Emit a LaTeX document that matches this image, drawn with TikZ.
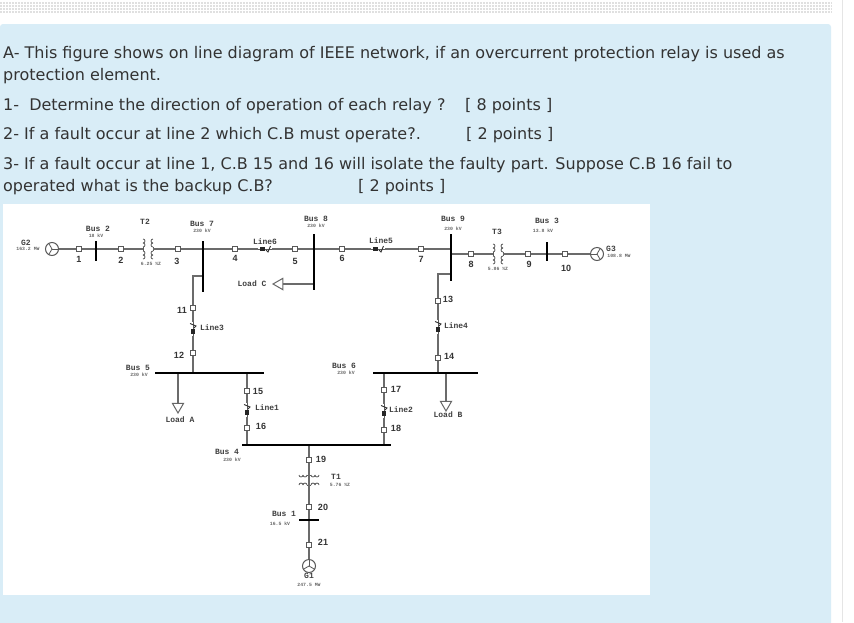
\documentclass[tikz,border=0pt]{standalone}
\usepackage{fontspec}
\setmainfont{DejaVu Sans}
\newfontfamily\diagfont{Liberation Mono}
\newfontfamily\numfont{Liberation Sans}
\usetikzlibrary{shapes.geometric}
\definecolor{panelblue}{HTML}{D9EDF7}
\definecolor{qtext}{HTML}{333333}
\tikzset{>={stealth},
    qline/.style={anchor=base west,text=qtext,font=\fontsize{16}{18}\selectfont,inner sep=0pt},
    wire/.style={draw=black!58,line width=1.1pt},
    busbar/.style={draw=black,line width=2.4pt},
    brk/.style={draw=black!65,fill=white,line width=1pt,minimum size=5.5pt,inner sep=0pt},
    relnum/.style={font=\fontsize{9}{9}\numfont\bfseries,text=black!80,inner sep=0pt},
    busname/.style={font=\fontsize{8}{8}\diagfont\bfseries,text=black!75,inner sep=0pt},
    busvolt/.style={font=\fontsize{4.8}{5}\diagfont\bfseries,text=black!60,inner sep=0pt},
    loadtri/.style={regular polygon,regular polygon sides=3,draw=black!60,fill=white,line width=1pt,minimum size=13pt,inner sep=0pt},
    gen/.style={circle,draw=black!65,fill=white,line width=1pt,minimum size=13pt,inner sep=0pt,
        path picture={\foreach \a in {0,120,240} \draw[black!65,line width=0.8pt] (path picture bounding box.center) -- +(\a+#1:7);}},
    pics/xfmr/.style={code={
        \foreach \k in {-2,-6,6,10} {
            \draw[black!65,line width=0.8pt] (-5,\k) arc[start angle=90,end angle=-90,radius=2];
            \draw[black!65,line width=0.8pt] (5,\k) arc[start angle=90,end angle=270,radius=2];
        }
        \draw[black!65,line width=0.8pt] (-5,-2) -- (-5,2) (5,-2) -- (5,2);
        \coordinate (-l) at (-5,0);
        \coordinate (-r) at (5,0);
    }},
    pics/linesym/.style={code={
        \draw[black!65,line width=0.9pt] (-7,0) -- (7,0);
        \draw[black!80,line width=0.9pt] (1,1) -- (3,3) -- (5.5,-3);
        \fill[black!85] (-5,-2) rectangle (0,2);
        \coordinate (-a) at (-7,0);
        \coordinate (-b) at (7,0);
    }}
}
\begin{document}
\begin{tikzpicture}[x=1pt,y=-1pt]
    \useasboundingbox (0,0) rectangle (854,622);
    \fill[white] (0,0) rectangle (854,622);
    % dotted strip along the top
    \foreach \y in {3,6,9,12}
        \draw[black!12,line width=1.5pt,dash pattern=on 1.5pt off 1.5pt] (0,\y) -- (832,\y);
    \draw[black!10,line width=0.8pt] (842.5,0) -- (842.5,622);
    \fill[panelblue,rounded corners=3pt] (0,24) rectangle (831,640);
    \fill[white] (3,204) rectangle (650,595);
    % question text
    \node[qline] (q1) at (3,58) {A- This figure shows on line diagram of IEEE network, if an overcurrent protection relay is used as};
    \node[qline] (q2) at (3,80) {protection element.};
    \node[qline] (q3) at (3,110) {1-\ \ Determine the direction of operation of each relay ?};
    \node[qline] (q3p) at (465,110) {[ 8 points ]};
    \node[qline] (q4) at (3,139) {2- If a fault occur at line 2 which C.B must operate?.};
    \node[qline] (q4p) at (466,139) {[ 2 points ]};
    \node[qline] (q5) at (3,169) {3- If a fault occur at line 1, C.B 15 and 16 will isolate the faulty part. Suppose C.B 16 fail to};
    \node[qline] (q6) at (3,191) {operated what is the backup C.B?};
    \node[qline] (q6p) at (358,191) {[ 2 points ]};
    % bus bars
    \foreach \n/\xa/\ya/\xb/\yb in {bu2/96/241/96/261,bu7/203/241/203/292,bu8/314/234/314/290,bu9/451/234/451/281,
        bu3/547/242/547/261,bu5/155/373/264/373,bu6/373/373/478/373,bu4/242/445/391/445}{
        \coordinate (\n a) at (\xa,\ya);
        \coordinate (\n b) at (\xb,\yb);
    }
    \coordinate (bu1a) at (299,520);
    \coordinate (bu1b) at (319,520);
    % breakers
    \foreach \n/\x/\y in {1/79/249,2/121/249,3/178/249,4/235/249,5/295/249,6/342/249,7/421/249,8/471/254,9/528/254,10/565/254,
        11/193/308,12/193/353,13/438/301,14/438/358,15/247/391,16/247/428,17/384/390,18/384/430,19/309/460,20/309/507,21/309/545}
        \node[brk] (cb\n) at (\x,\y) {};
    % generators and loads
    \node[gen=0] (g2) at (52,249) {};
    \node[gen=180] (g3) at (597,254) {};
    \node[gen=-90] (g1) at (309,566) {};
    \node[loadtri,shape border rotate=180] (loadA) at (178,406.5) {};
    \node[loadtri,shape border rotate=180] (loadB) at (446,404.5) {};
    \node[loadtri,shape border rotate=90] (loadC) at (279.5,284) {};
    % transformers and line symbols
    \pic (t2) at (148,249) {xfmr};
    \pic (t3) at (498,254) {xfmr};
    \pic[rotate=90] (t1) at (309,480) {xfmr};
    \pic (l6) at (265,249) {linesym};
    \pic (l5) at (378,249) {linesym};
    \pic[rotate=90] (l3) at (193,329) {linesym};
    \pic[rotate=90] (l4) at (438,327) {linesym};
    \pic[rotate=90] (l1) at (247,410) {linesym};
    \pic[rotate=90] (l2) at (384,411) {linesym};
    % connectors
    \draw[wire] (g2) -- (cb1);
    \draw[wire] (cb1) -- (cb2);
    \draw[wire] (cb2) -- (t2-l);
    \draw[wire] (t2-r) -- (cb3);
    \draw[wire] (cb3) -- (cb4);
    \draw[wire] (cb4) -- (l6-a);
    \draw[wire] (l6-b) -- (cb5);
    \draw[wire] (cb5) -- (cb6);
    \draw[wire] (cb6) -- (l5-a);
    \draw[wire] (l5-b) -- (cb7);
    \draw[wire] (cb7) -- (451,249);
    \draw[wire] (451,254) -- (cb8);
    \draw[wire] (cb8) -- (t3-l);
    \draw[wire] (t3-r) -- (cb9);
    \draw[wire] (cb9) -- (cb10);
    \draw[wire] (cb10) -- (g3);
    \draw[wire] (203,276) -| (cb11);
    \draw[wire] (cb11) -- (l3-b);
    \draw[wire] (l3-a) -- (cb12);
    \draw[wire] (cb12) -- (193,373);
    \draw[wire] (451,274) -| (cb13);
    \draw[wire] (cb13) -- (l4-b);
    \draw[wire] (l4-a) -- (cb14);
    \draw[wire] (cb14) -- (438,373);
    \draw[wire] (178,373) -- (loadA.north);
    \draw[wire] (446,373) -- (loadB.north);
    \draw[wire] (314,284) -- (loadC.east);
    \draw[wire] (247,373) -- (cb15);
    \draw[wire] (cb15) -- (l1-b);
    \draw[wire] (l1-a) -- (cb16);
    \draw[wire] (cb16) -- (247,445);
    \draw[wire] (384,373) -- (cb17);
    \draw[wire] (cb17) -- (l2-b);
    \draw[wire] (l2-a) -- (cb18);
    \draw[wire] (cb18) -- (384,445);
    \draw[wire] (309,445) -- (cb19);
    \draw[wire] (cb19) -- (t1-l);
    \draw[wire] (t1-r) -- (cb20);
    \draw[wire] (cb20) -- (cb21);
    \draw[wire] (cb21) -- (g1);
    \foreach \n in {bu2,bu7,bu8,bu9,bu3,bu5,bu6,bu4,bu1}
        \draw[busbar] (\n a) -- (\n b);
    % relay numbers
    \foreach \t/\x/\y in {1/79/259,2/121/260,3/177/261,4/235/258,5/295/261,6/342/258,7/421/259,8/471/264,9/529/264,10/566/268,
        11/182/310,12/179/355,13/448/299,14/449/356,15/258/391,16/261/426,17/396/389,18/396/428,19/321/459,20/323/507,21/323/542}
        \node[relnum] (num\t) at (\x,\y) {\t};
    % bus and element names
    \foreach \t/\x/\y in {G2/26/243,Bus 2/98/229,T2/145/222,Bus 7/202/224,Line6/265/242,Bus 8/316/219,Load C/252/284,Line5/381/241,
        Bus 9/453/219,T3/497/232,Bus 3/547/221,G3/611/249,Line3/212/328,Bus 5/138/368,Load A/180/420,Line1/267/408,Bus 4/227/452,
        Line4/456/326,Bus 6/344/366,Line2/401/410,Load B/448/415,T1/336/477,Bus 1/284/514,G1/309/576}
        \node[busname] (nm\x) at (\x,\y) {\t};
    % ratings
    \foreach \t/\x/\y in {163.2 MW/28/249,18 kV/96/236,6.25 \%Z/151/264,230 kV/202/231,230 kV/316/226,230 kV/453/229,5.86 \%Z/498/269,
        13.8 kV/543/231,108.8 MW/619/256,230 kV/139/375,230 kV/232/460,230 kV/346/373,5.76 \%Z/340/485,16.5 kV/280/524,247.5 MW/309/585}
        \node[busvolt] (vl\x) at (\x,\y) {\t};
\end{tikzpicture}
\end{document}
